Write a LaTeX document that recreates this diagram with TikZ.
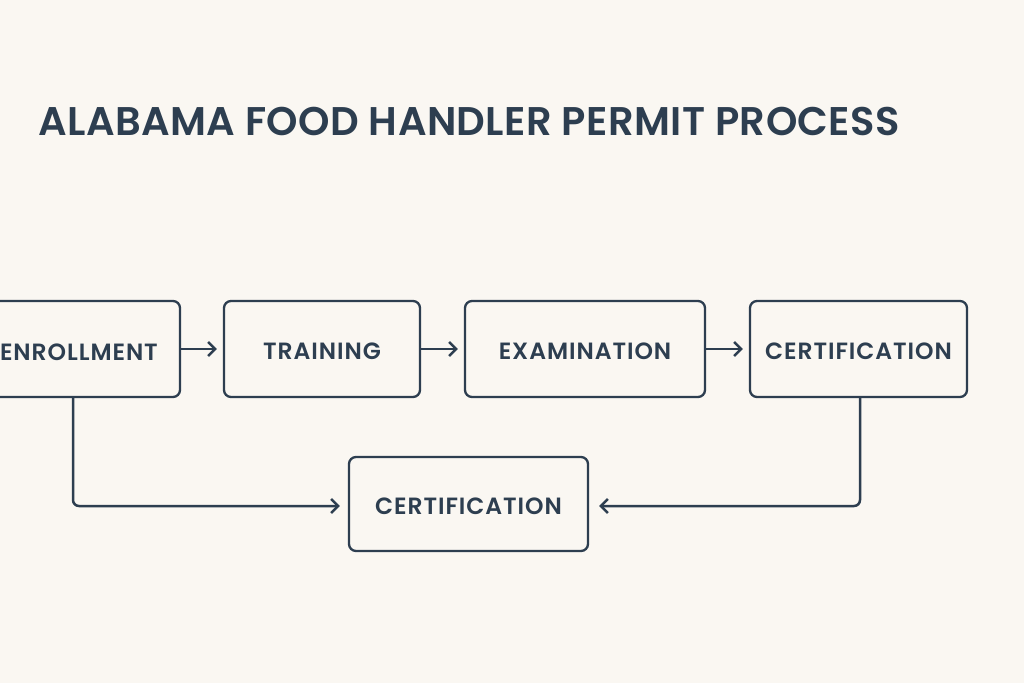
\documentclass[tikz,border=0pt]{standalone}
\usepackage{fontspec}
\setmainfont{Poppins}
\newfontfamily\titlefont[LetterSpace=1]{Poppins SemiBold}
\newfontfamily\boxfont[LetterSpace=4]{Poppins SemiBold}
\usetikzlibrary{arrows.meta}
\definecolor{ink}{HTML}{2D3E50}
\definecolor{bg}{HTML}{FAF7F2}
\tikzset{
  x=1pt,y=-1pt,
  stepbox/.style={draw=ink,line width=2.3pt,rounded corners=7pt,fill=bg,inner sep=0pt},
  lbl/.style={text=ink,font=\boxfont\fontsize{23.5}{26}\selectfont,yshift=-2pt},
  conn/.style={draw=ink,line width=2.5pt,-{Straight Barb[length=7pt,width=14pt,line width=2.5pt]}}
}
\begin{document}
\begin{tikzpicture}
\useasboundingbox (0,0) rectangle (1024,683);
\fill[bg] (0,0) rectangle (1024,683);
\clip (0,0) rectangle (1024,683);
\node[anchor=base west,text=ink,font=\titlefont\fontsize{40}{44}\selectfont,inner sep=0pt] (title) at (38,135) {ALABAMA FOOD HANDLER PERMIT PROCESS};
% boxes
\draw[stepbox] (-30,301) rectangle (180,397);
\node[lbl,anchor=east,inner sep=0pt] (t1) at (158,350) {ENROLLMENT};
\node[stepbox,minimum width=196pt,minimum height=96pt] (b2) at (322,349) {};
\node[lbl] (t2) at (b2) {TRAINING};
\node[stepbox,minimum width=240pt,minimum height=96pt] (b3) at (585,349) {};
\node[lbl] (t3) at (b3) {EXAMINATION};
\node[stepbox,minimum width=217pt,minimum height=96pt] (b4) at (858.5,349) {};
\node[lbl] (t4) at (b4) {CERTIFICATION};
\node[stepbox,minimum width=239pt,minimum height=94pt] (b5) at (468.5,504) {};
\node[lbl] (t5) at (b5) {CERTIFICATION};
\coordinate (e1) at (180,349);
\coordinate (e1b) at (73,397);
% arrows
\draw[conn] (e1) -- ([xshift=-6pt]b2.west);
\draw[conn] (b2.east) -- ([xshift=-6pt]b3.west);
\draw[conn] (b3.east) -- ([xshift=-6pt]b4.west);
\draw[conn,rounded corners=6pt] (e1b) |- ([xshift=-8pt,yshift=-2pt]b5.west);
\draw[conn,rounded corners=6pt] ([xshift=1.5pt]b4.south) |- ([xshift=10pt,yshift=-2pt]b5.east);
\end{tikzpicture}
\end{document}
